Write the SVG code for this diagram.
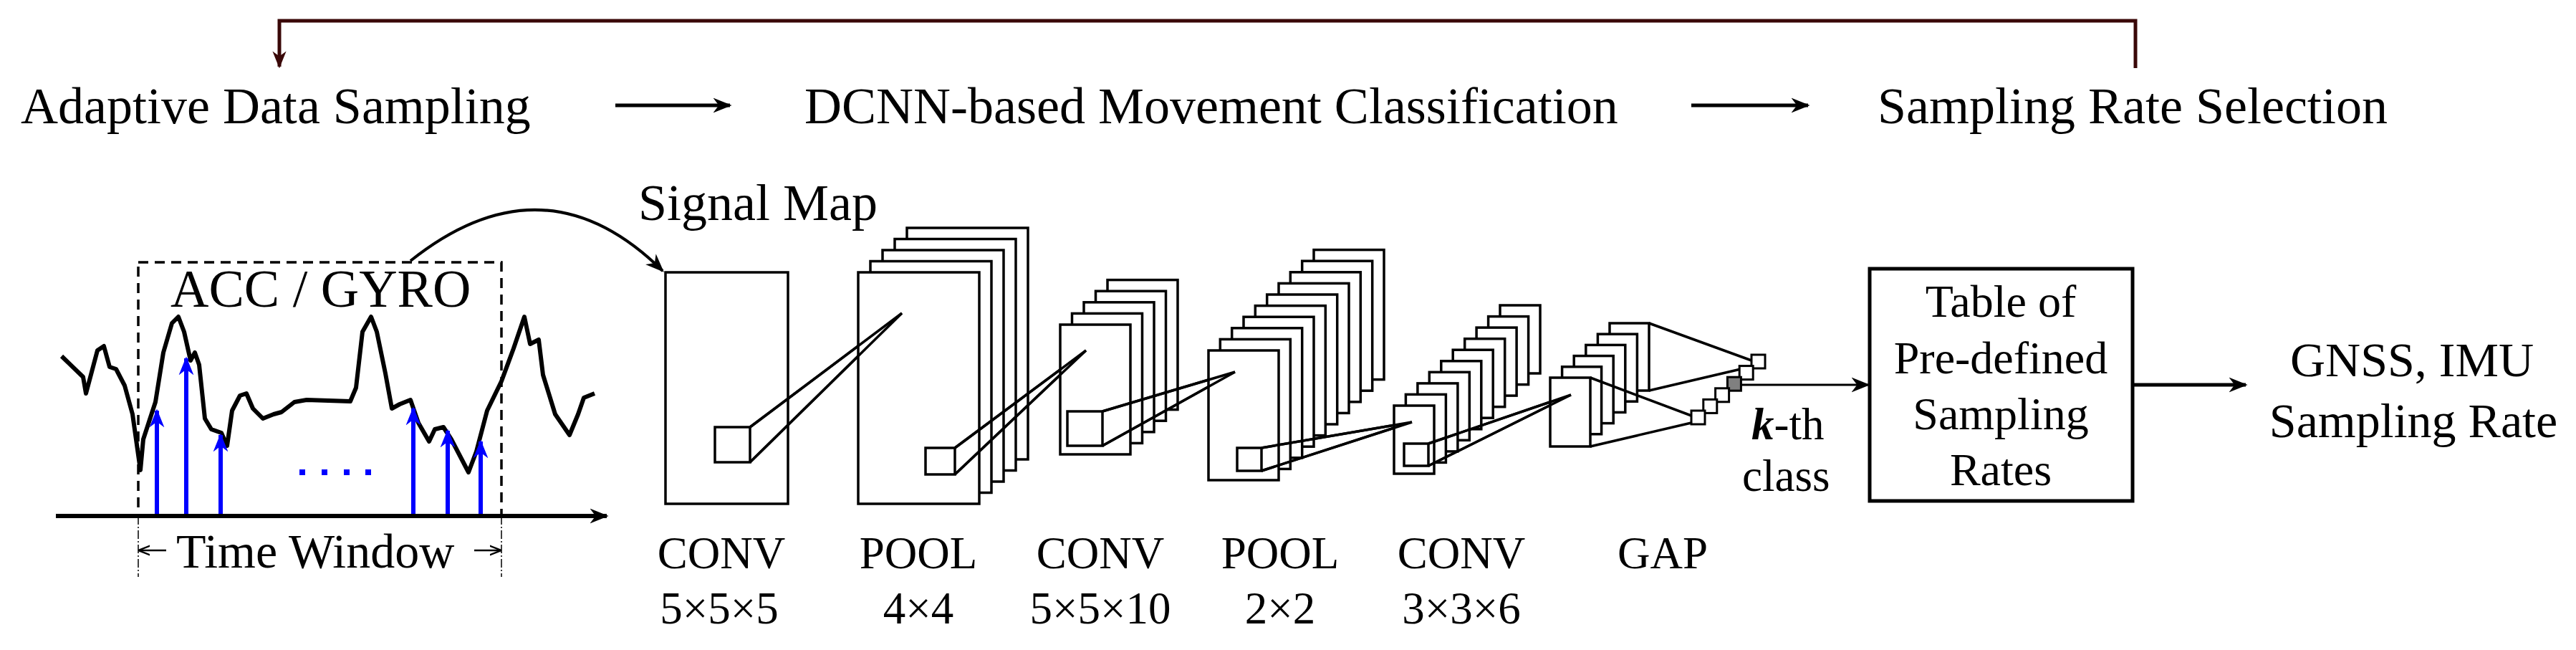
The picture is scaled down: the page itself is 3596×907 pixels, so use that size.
<svg xmlns="http://www.w3.org/2000/svg" width="3596" height="907" viewBox="0 0 3596 907">
<defs>
<style>
text{font-family:"Liberation Serif","Times New Roman",serif;fill:#000}
.t{font-size:72px}
.l{font-size:63px;text-anchor:middle}
.r{fill:#fff;stroke:#000;stroke-width:3.5}
.ln{stroke:#000;stroke-width:3.5;fill:none}
.bl{stroke:#0000ff;stroke-width:6;marker-end:url(#ba)}
</style>
<marker id="ah" viewBox="0 0 10 10" refX="9" refY="5" markerWidth="6" markerHeight="6" markerUnits="userSpaceOnUse" orient="auto"><path d="M0,0L10,5L0,10L3,5Z" fill="#000"/></marker>
<marker id="ah2" viewBox="0 0 10 10" refX="9" refY="5" markerWidth="26" markerHeight="26" markerUnits="userSpaceOnUse" orient="auto"><path d="M0,1L10,5L0,9L3,5Z" fill="#000"/></marker>
<marker id="ahb" viewBox="0 0 10 10" refX="9" refY="5" markerWidth="24" markerHeight="24" markerUnits="userSpaceOnUse" orient="auto"><path d="M0,1L10,5L0,9L3,5Z" fill="#3a0808"/></marker>
<marker id="ba" viewBox="0 0 10 10" refX="9" refY="5" markerWidth="26" markerHeight="26" markerUnits="userSpaceOnUse" orient="auto"><path d="M0,1L10,5L0,9L3,5Z" fill="#0000ff"/></marker>
<marker id="sa" viewBox="0 0 10 10" refX="9" refY="5" markerWidth="16" markerHeight="16" markerUnits="userSpaceOnUse" orient="auto"><path d="M0,1L10,5L0,9" fill="none" stroke="#000" stroke-width="1.5"/></marker>
</defs>

<g id="top-labels">
<text class="t" x="29" y="172">Adaptive Data Sampling</text>
<text class="t" x="1123" y="172">DCNN-based Movement Classification</text>
<text class="t" x="2621" y="172">Sampling Rate Selection</text>
</g>

<g id="signal">
<rect x="193" y="366" width="507" height="354" fill="none" stroke="#000" stroke-width="3.5" stroke-dasharray="14,9"/>
<text x="238" y="428" style="font-size:74px">ACC / GYRO</text>
<polyline fill="none" stroke="#000" stroke-width="6" stroke-linejoin="round" points="86,497 116,526 120,549 136,489 145,483 153,512 162,515 174,538 185,578 196,656 200,613 217,561 228,492 240,451 249,442 257,463 266,503 272,492 278,509 286,584 295,599 309,604 317,622 324,573 335,552 344,549 353,570 367,584 382,578 393,575 411,561 428,558 489,560 497,541 506,463 518,442 526,463 538,521 547,570 558,564 573,558 584,590 599,616 607,599 619,596 630,613 654,659 665,630 680,573 700,532 717,486 732,442 740,480 752,474 758,523 775,578 795,607 807,578 815,555 830,549"/>
<line class="bl" x1="219" y1="720" x2="219" y2="573"/>
<line class="bl" x1="260" y1="720" x2="260" y2="500"/>
<line class="bl" x1="308" y1="720" x2="308" y2="607"/>
<line class="bl" x1="577" y1="720" x2="577" y2="570"/>
<line class="bl" x1="625" y1="720" x2="625" y2="601"/>
<line class="bl" x1="671" y1="720" x2="671" y2="616"/>
<g fill="#0000ff"><rect x="418" y="655" width="8" height="8"/><rect x="449" y="655" width="8" height="8"/><rect x="480" y="655" width="8" height="8"/><rect x="510" y="655" width="8" height="8"/></g>
<line x1="78" y1="720" x2="847" y2="720" stroke="#000" stroke-width="6" marker-end="url(#ah2)"/>
<g stroke="#000" stroke-width="1.5" stroke-dasharray="12,3,2,3"><line x1="193" y1="720" x2="193" y2="805"/><line x1="700" y1="720" x2="700" y2="805"/></g>
<line x1="232" y1="768" x2="195" y2="768" stroke="#000" stroke-width="2.5" marker-end="url(#sa)"/>
<line x1="662" y1="768" x2="698" y2="768" stroke="#000" stroke-width="2.5" marker-end="url(#sa)"/>
<text x="246" y="792" style="font-size:68px">Time Window</text>
</g>

<g id="connectors">
<polyline points="2981,95 2981,29 390,29 390,93" fill="none" stroke="#3a0808" stroke-width="5" marker-end="url(#ahb)"/>
<line x1="859" y1="147" x2="1019" y2="147" stroke="#000" stroke-width="5" marker-end="url(#ah2)"/>
<line x1="2361" y1="147" x2="2524" y2="147" stroke="#000" stroke-width="5" marker-end="url(#ah2)"/>
<path d="M573,364 Q760,215 925,378" fill="none" stroke="#000" stroke-width="4" marker-end="url(#ah2)"/>
<line x1="2430" y1="537" x2="2608" y2="537" stroke="#000" stroke-width="3" marker-end="url(#ah2)"/>
<line x1="2977" y1="537" x2="3135" y2="537" stroke="#000" stroke-width="5" marker-end="url(#ah2)"/>
</g>

<text x="891" y="307" style="font-size:72px">Signal Map</text>

<g id="conv1">
<rect class="r" x="929" y="380" width="171" height="323"/>
<rect class="r" x="998" y="596" width="49" height="49" stroke-width="4.5"/>
<line class="ln" x1="1047" y1="596" x2="1259" y2="437"/><line class="ln" x1="1047" y1="645" x2="1259" y2="437"/>
<text class="l" x="1007" y="793">CONV</text><text class="l" x="1004" y="870">5×5×5</text>
</g>

<g id="pool1">
<rect class="r" x="1266" y="318" width="169" height="323"/>
<rect class="r" x="1249" y="333.5" width="169" height="323"/>
<rect class="r" x="1232" y="349" width="169" height="323"/>
<rect class="r" x="1215" y="364.5" width="169" height="323"/>
<rect class="r" x="1198" y="380" width="169" height="323"/>
<line class="ln" x1="1047" y1="596" x2="1259" y2="437"/><line class="ln" x1="1047" y1="645" x2="1259" y2="437"/>
<rect class="r" x="1292" y="625" width="41" height="37" stroke-width="4.5"/>
<line class="ln" x1="1333" y1="625" x2="1516" y2="489"/><line class="ln" x1="1333" y1="662" x2="1516" y2="489"/>
<text class="l" x="1282" y="793">POOL</text><text class="l" x="1282" y="870">4×4</text>
</g>

<g id="conv2">
<rect class="r" x="1546" y="390.6" width="98" height="181"/>
<rect class="r" x="1529.5" y="406.2" width="98" height="181"/>
<rect class="r" x="1513" y="421.8" width="98" height="181"/>
<rect class="r" x="1496.5" y="437.4" width="98" height="181"/>
<rect class="r" x="1480" y="453" width="98" height="181"/>
<line class="ln" x1="1333" y1="625" x2="1516" y2="489"/><line class="ln" x1="1333" y1="662" x2="1516" y2="489"/>
<rect class="r" x="1490" y="574" width="49" height="48" stroke-width="5.5"/>
<line class="ln" x1="1539" y1="574" x2="1724" y2="519"/><line class="ln" x1="1539" y1="622" x2="1724" y2="519"/>
<text class="l" x="1536" y="793">CONV</text><text class="l" x="1536" y="870">5×5×10</text>
</g>

<g id="pool2">
<rect class="r" x="1834" y="348.6" width="98" height="181"/>
<rect class="r" x="1817.7" y="364.2" width="98" height="181"/>
<rect class="r" x="1801.3" y="379.8" width="98" height="181"/>
<rect class="r" x="1785" y="395.4" width="98" height="181"/>
<rect class="r" x="1768.7" y="411" width="98" height="181"/>
<rect class="r" x="1752.3" y="426.6" width="98" height="181"/>
<rect class="r" x="1736" y="442.2" width="98" height="181"/>
<rect class="r" x="1719.7" y="457.8" width="98" height="181"/>
<rect class="r" x="1703.3" y="473.4" width="98" height="181"/>
<rect class="r" x="1687" y="489" width="98" height="181"/>
<line class="ln" x1="1539" y1="574" x2="1724" y2="519"/><line class="ln" x1="1539" y1="622" x2="1724" y2="519"/>
<rect class="r" x="1727" y="625" width="34" height="32" stroke-width="4.5"/>
<line class="ln" x1="1761" y1="625" x2="1971" y2="589"/><line class="ln" x1="1761" y1="657" x2="1971" y2="589"/>
<text class="l" x="1787" y="793">POOL</text><text class="l" x="1787" y="870">2×2</text>
</g>

<g id="conv3">
<rect class="r" x="2094" y="426" width="56" height="95"/>
<rect class="r" x="2077.6" y="441.6" width="56" height="95"/>
<rect class="r" x="2061.1" y="457.1" width="56" height="95"/>
<rect class="r" x="2044.7" y="472.7" width="56" height="95"/>
<rect class="r" x="2028.2" y="488.2" width="56" height="95"/>
<rect class="r" x="2011.8" y="503.8" width="56" height="95"/>
<rect class="r" x="1995.3" y="519.3" width="56" height="95"/>
<rect class="r" x="1978.9" y="534.9" width="56" height="95"/>
<rect class="r" x="1962.4" y="550.4" width="56" height="95"/>
<rect class="r" x="1946" y="566" width="56" height="95"/>
<line class="ln" x1="1761" y1="625" x2="1971" y2="589"/><line class="ln" x1="1761" y1="657" x2="1971" y2="589"/>
<rect class="r" x="1960" y="619" width="34" height="31" stroke-width="4.5"/>
<line class="ln" x1="1994" y1="619" x2="2193" y2="551"/><line class="ln" x1="1994" y1="650" x2="2193" y2="551"/>
<text class="l" x="2040" y="793">CONV</text><text class="l" x="2040" y="870">3×3×6</text>
</g>

<g id="gap">
<rect class="r" x="2247" y="451" width="55" height="94"/>
<rect class="r" x="2230.4" y="466.2" width="55" height="94"/>
<rect class="r" x="2213.8" y="481.4" width="55" height="94"/>
<rect class="r" x="2197.2" y="496.6" width="55" height="94"/>
<rect class="r" x="2180.6" y="511.8" width="55" height="94"/>
<rect class="r" x="2164" y="527" width="56" height="96" stroke-width="2.5"/>
<line class="ln" x1="1994" y1="619" x2="2193" y2="551"/><line class="ln" x1="1994" y1="650" x2="2193" y2="551"/>
<g class="ln" stroke-width="3">
<line x1="2302" y1="451" x2="2445" y2="503"/><line x1="2302" y1="545" x2="2430" y2="515"/>
<line x1="2220" y1="527" x2="2361" y2="580"/><line x1="2220" y1="623" x2="2361" y2="590"/>
</g>
<text class="l" x="2321" y="793">GAP</text>
</g>

<g id="output-units" stroke="#000" stroke-width="3">
<rect x="2445" y="495" width="19" height="19" fill="#fff"/>
<rect x="2428.2" y="510.6" width="19" height="19" fill="#fff"/>
<rect x="2411.4" y="526.2" width="19" height="19" fill="#808080"/>
<rect x="2394.6" y="541.8" width="19" height="19" fill="#fff"/>
<rect x="2377.8" y="557.4" width="19" height="19" fill="#fff"/>
<rect x="2361" y="573" width="19" height="19" fill="#fff"/>
</g>

<g id="kth">
<text x="2445" y="613" style="font-size:63px"><tspan font-style="italic" font-weight="bold">k</tspan>-th</text>
<text x="2432" y="685" style="font-size:63px">class</text>
</g>

<g id="table">
<rect x="2610" y="375" width="367" height="324" fill="none" stroke="#000" stroke-width="5"/>
<g style="font-size:64px;text-anchor:middle">
<text x="2793" y="442">Table of</text>
<text x="2793" y="521">Pre-defined</text>
<text x="2793" y="599">Sampling</text>
<text x="2793" y="677">Rates</text>
</g>
</g>

<g id="output" style="font-size:68px;text-anchor:middle">
<text x="3367" y="525">GNSS, IMU</text>
<text x="3369" y="610">Sampling Rate</text>
</g>
</svg>
